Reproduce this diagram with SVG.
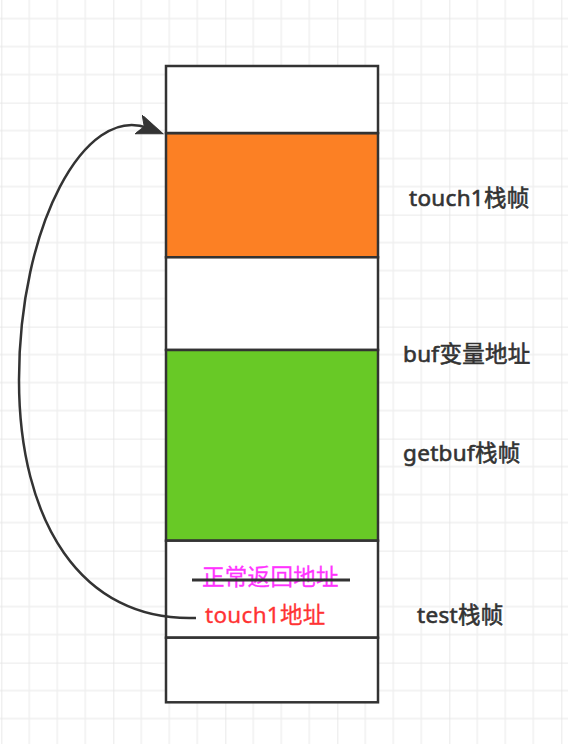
<svg xmlns="http://www.w3.org/2000/svg" width="568" height="744" viewBox="0 0 568 744">
  <style>
    .cell { stroke: #333333; stroke-width: 2.5; }
    .lbl { font-family: "Noto Sans", "Noto Sans CJK SC", sans-serif; font-size: 22.5px; letter-spacing: 0.3px; fill: #333333; stroke: #333333; stroke-width: 0.6; }
    .red { fill: #ff3333; stroke: #ff3333; stroke-width: 0.3; }
    .mag { fill: #ff33ff; stroke: #ff33ff; stroke-width: 0.3; }
    .edge { fill: none; stroke: #333333; stroke-width: 2.5; }
  </style>
  <defs>
    <pattern id="grid" patternUnits="userSpaceOnUse" x="1.3" y="-9.4" width="112" height="112">
      <path d="M28 0V112M56 0V112M84 0V112M0 28H112M0 56H112M0 84H112" stroke="#efefef" stroke-width="1.3" fill="none"/>
      <path d="M0 0V112M0 0H112" stroke="#e4e4e4" stroke-width="1.6" fill="none"/>
    </pattern>
    <marker id="arrow" markerUnits="userSpaceOnUse" markerWidth="30" markerHeight="24" viewBox="0 0 30 24" refX="10" refY="10" orient="auto">
      <path d="M0 0 L26 10 L0 20 L6 10 Z" fill="#333333" stroke="#333333" stroke-width="1"/>
    </marker>
  </defs>
  <rect x="0" y="0" width="568" height="744" fill="#ffffff"/>
  <rect x="0" y="0" width="568" height="744" fill="url(#grid)"/>

  <g id="stack">
    <g id="cell-top"><rect class="cell" x="166" y="66" width="212" height="67" fill="#ffffff"/></g>
    <g id="cell-touch1"><rect class="cell" x="166" y="133.3" width="212" height="124" fill="#fc8024"/></g>
    <g id="cell-buf"><rect class="cell" x="166" y="257.3" width="212" height="92.7" fill="#ffffff"/></g>
    <g id="cell-getbuf"><rect class="cell" x="166" y="350" width="212" height="190.7" fill="#68c926"/></g>
    <g id="cell-test"><rect class="cell" x="166" y="540.7" width="212" height="97" fill="#ffffff"/></g>
    <g id="cell-bottom"><rect class="cell" x="166" y="637.7" width="212" height="64.6" fill="#ffffff"/></g>
  </g>

  <g id="label-touch1-frame"><text class="lbl" x="409" y="206">touch1栈帧</text></g>
  <g id="label-buf-addr"><text class="lbl" x="403" y="362">buf变量地址</text></g>
  <g id="label-getbuf-frame"><text class="lbl" x="403" y="461">getbuf栈帧</text></g>
  <g id="label-test-frame"><text class="lbl" x="417" y="623">test栈帧</text></g>

  <g id="label-normal-ret">
    <text class="lbl mag" x="202" y="585">正常返回地址</text>
    <line x1="192" y1="580" x2="350" y2="580" stroke="#333333" stroke-width="3"/>
  </g>
  <g id="label-touch1-addr"><text class="lbl red" x="205" y="623">touch1地址</text></g>

  <g id="connectors">
    <path class="edge" d="M196 618 C80 622 19 520 19 380 C19 225 85 104 148 128" marker-end="url(#arrow)"/>
  </g>
</svg>
